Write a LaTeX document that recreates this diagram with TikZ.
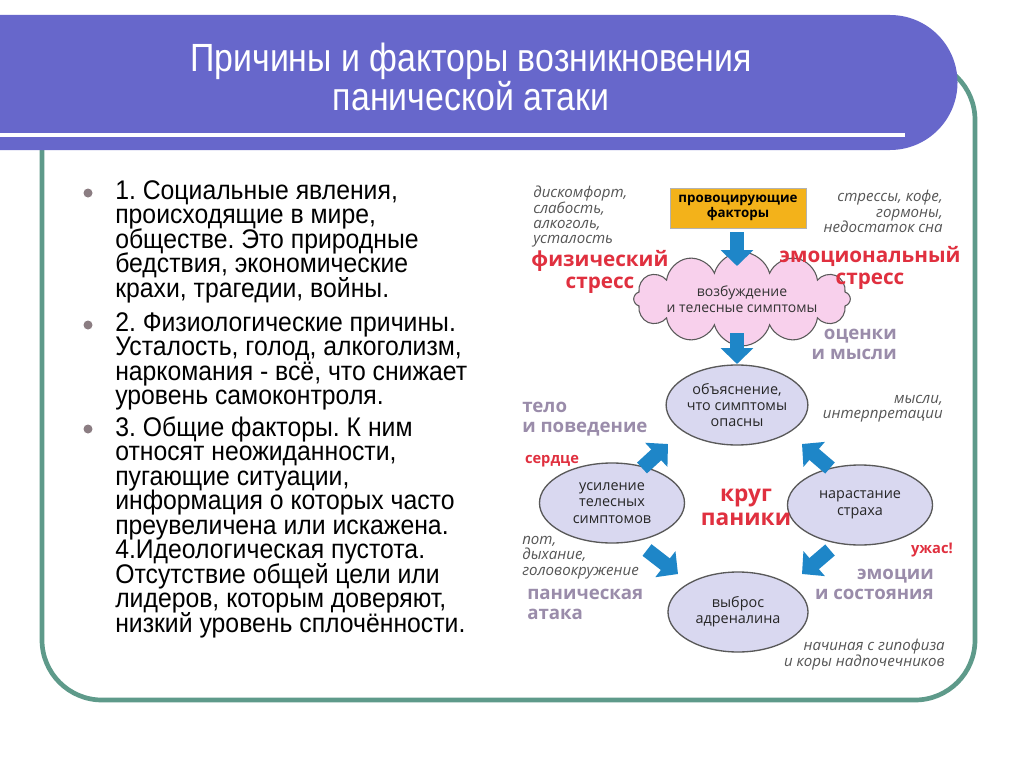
\documentclass[tikz,border=0pt]{standalone}
\usepackage{fontspec}
\setmainfont{Liberation Sans}
\newfontfamily\narrowf[FakeStretch=0.86]{Liberation Sans}
\newfontfamily\bodyf[FakeStretch=0.92]{Liberation Sans}
\newfontfamily\diaf{Open Sans}
\usetikzlibrary{shapes.symbols,shapes.geometric,arrows.meta}
\definecolor{banner}{HTML}{6767CB}
\definecolor{teal}{HTML}{5E9A8A}
\definecolor{blu}{HTML}{1E86C8}
\definecolor{lav}{HTML}{D9D8F0}
\definecolor{rd}{HTML}{E0303F}
\definecolor{pg}{HTML}{9A8CAA}
\definecolor{gt}{HTML}{555555}
\definecolor{bul}{HTML}{8B7D82}
\definecolor{org}{HTML}{F3B21A}
\definecolor{pnk}{HTML}{F8D0EC}
\begin{document}
\frenchspacing
\lineskiplimit=-30pt
\begin{tikzpicture}[x=0.75pt,y=-0.75pt,
  ell/.style={ellipse,fill=lav,draw=gray!70!black,line width=1pt,minimum width=140*0.75pt,minimum height=80*0.75pt,inner sep=0pt,align=center,font=\diaf\fontsize{10.8pt}{12.3pt}\selectfont,text=black!85},
  it/.style={font=\diaf\itshape\fontsize{11.3pt}{11.5pt}\selectfont,text=gt,inner sep=0pt},
  redl/.style={font=\diaf\bfseries\fontsize{15.5pt}{16pt}\selectfont,text=rd,align=center,inner sep=0pt},
  pgl/.style={font=\diaf\bfseries\fontsize{14pt}{15pt}\selectfont,text=pg,inner sep=0pt},
  barrow/.style={blu,line width=11pt,-{Triangle[length=12pt,width=24pt]}},
  bl/.style={font=\bodyf\fontsize{20.2pt}{18.4pt}\selectfont,anchor=north west,align=left,inner sep=0pt}
]
\useasboundingbox (0,0) rectangle (1024,767);
\fill[white] (0,0) rectangle (1024,767);
% teal frame
\draw[teal,line width=3.5pt,rounded corners=45pt] (42,60) rectangle (975,700);
% banner
\fill[banner] (0,15) -- (890,15) arc[start angle=90,end angle=-90,radius=67.5*0.75pt] -- (0,150) -- cycle;
\draw[white,line width=2.5pt] (0,135) -- (905,135);
\node[text=white,align=center,font=\narrowf\fontsize{29.5pt}{29pt}\selectfont] (title) at (471,77) {Причины и факторы возникновения\\панической атаки};
% bullets
\foreach \yy in {193,325,429} \fill[bul] (88,\yy) circle (4.5);
\node[bl] (t1) at (115,180) {1. Социальные явления,\\происходящие в мире,\\обществе. Это природные\\бедствия, экономические\\крахи, трагедии, войны.};
\node[bl] (t2) at (115,312) {2. Физиологические причины.\\Усталость, голод, алкоголизм,\\наркомания - всё, что снижает\\уровень самоконтроля.};
\node[bl] (t3) at (115,416) {3. Общие факторы. К ним\\относят неожиданности,\\пугающие ситуации,\\информация о которых часто\\преувеличена или искажена.\\4.Идеологическая пустота.\\Отсутствие общей цели или\\лидеров, которым доверяют,\\низкий уровень сплочённости.};
% diagram
\node[fill=org,draw=gray!60,minimum width=136*0.75pt,minimum height=40*0.75pt,align=center,font=\diaf\bfseries\fontsize{10pt}{11pt}\selectfont,inner sep=0pt] (prov) at (738,208) {провоцирующие\\факторы};
\node[cloud,cloud puffs=12,aspect=4,fill=pnk,draw=gray!70!black,line width=0.8pt,minimum width=176*0.75pt,minimum height=54*0.75pt,inner sep=0pt,align=center,font=\diaf\fontsize{10.5pt}{12pt}\selectfont,text=black!80] (cloud) at (742,299) {возбуждение\\и телесные симптомы};
\node[ell] (top) at (737,405) {объяснение,\\что симптомы\\опасны};
\node[ell,minimum width=145*0.75pt] (lft) at (612,503) {усиление\\телесных\\симптомов};
\node[ell,minimum width=145*0.75pt] (rgt) at (860,505) {нарастание\\страха};
\node[ell] (bot) at (738,612) {выброс\\адреналина};
\node[redl,font=\diaf\bfseries\fontsize{17pt}{18pt}\selectfont] (krug) at (746,507) {круг\\паники};
\coordinate (a1s) at (737,232); \coordinate (a1e) at (737,266);
\coordinate (a2s) at (737,333); \coordinate (a2e) at (737,364);
\draw[barrow] (a1s) -- (a1e);
\draw[barrow] (a2s) -- (a2e);
\coordinate (l1) at (642,468); \coordinate (l2) at (668,444);
\coordinate (r1) at (830,468); \coordinate (r2) at (802,444);
\coordinate (rb1) at (830,550); \coordinate (rb2) at (802,574);
\coordinate (lb1) at (647,550); \coordinate (lb2) at (678,574);
\draw[barrow] (l1) -- (l2);
\draw[barrow] (r1) -- (r2);
\draw[barrow] (rb1) -- (rb2);
\draw[barrow] (lb1) -- (lb2);
% labels
\node[it,anchor=north west,align=left] (dis) at (533,186) {дискомфорт,\\слабость,\\алкоголь,\\усталость};
\node[it,anchor=north east,align=right] (str) at (943,190) {стрессы, кофе,\\гормоны,\\недостаток сна};
\node[redl] (fiz) at (600,272) {физический\\стресс};
\node[redl] (emo) at (870,268) {эмоциональный\\стресс};
\node[pgl,anchor=north east,align=right] (ots) at (897,329) {оценки\\и мысли};
\node[it,anchor=north east,align=right] (mys) at (943,395) {мысли,\\интерпретации};
\node[pgl,anchor=north west,align=left] (telo) at (522,402) {тело\\и поведение};
\node[font=\diaf\bfseries\fontsize{11pt}{12pt}\selectfont,text=rd,inner sep=0pt] (ser) at (552,461) {сердце};
\node[it,anchor=north west,align=left] (pot) at (522,536) {пот,\\дыхание,\\головокружение};
\node[pgl,anchor=north west,align=left] (pan) at (527,589) {паническая\\атака};
\node[font=\diaf\bfseries\fontsize{11pt}{12pt}\selectfont,text=rd,inner sep=0pt,anchor=east] (uzh) at (953,550) {ужас!};
\node[pgl,anchor=north east,align=right] (emc) at (934,569) {эмоции\\и состояния};
\node[it,anchor=north east,align=right] (nach) at (945,639) {начиная с гипофиза\\и коры надпочечников};
\end{tikzpicture}
\end{document}
